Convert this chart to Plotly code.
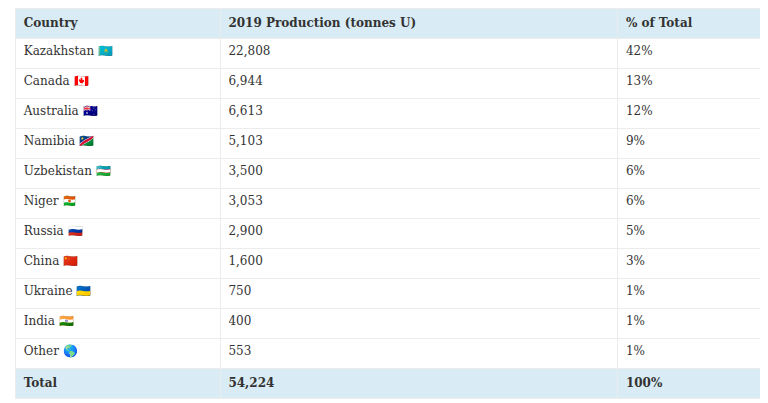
import plotly.graph_objects as go

countries = ["Kazakhstan", "Canada", "Australia", "Namibia", "Uzbekistan", "Niger",
             "Russia", "China", "Ukraine", "India", "Other"]
flags = ["🇰🇿", "🇨🇦", "🇦🇺", "🇳🇦", "🇺🇿", "🇳🇪", "🇷🇺", "🇨🇳", "🇺🇦", "🇮🇳", "🌎"]
production = [22808, 6944, 6613, 5103, 3500, 3053, 2900, 1600, 750, 400, 553]
share = ["42%", "13%", "12%", "9%", "6%", "6%", "5%", "3%", "1%", "1%", "1%"]
total_prod = 54224
total_share = "100%"

col1 = [f"{c} {f}" for c, f in zip(countries, flags)] + ["<b>Total</b>"]
col2 = [f"{p:,}" for p in production] + [f"<b>{total_prod:,}</b>"]
col3 = share + [f"<b>{total_share}</b>"]

header_blue = "#d9ecf5"
fills = ["white"] * len(countries) + [header_blue]

fig = go.Figure(go.Table(
    columnwidth=[205, 398, 150],
    header=dict(
        values=["<b>Country</b>", "<b>2019 Production (tonnes U)</b>", "<b>% of Total</b>"],
        fill_color=header_blue, line_color="#ececec", align="left",
        font=dict(family="DejaVu Serif", size=12, color="#333"), height=30),
    cells=dict(
        values=[col1, col2, col3],
        fill_color=[fills], line_color="#ececec", align="left",
        font=dict(family="DejaVu Serif", size=12, color="#333"), height=30),
    domain=dict(x=[0.01, 0.99], y=[0, 1]),
))
fig.update_layout(width=768, height=403, margin=dict(l=0, r=0, t=0, b=0),
                  paper_bgcolor="white")
fig.write_html("out.html")
